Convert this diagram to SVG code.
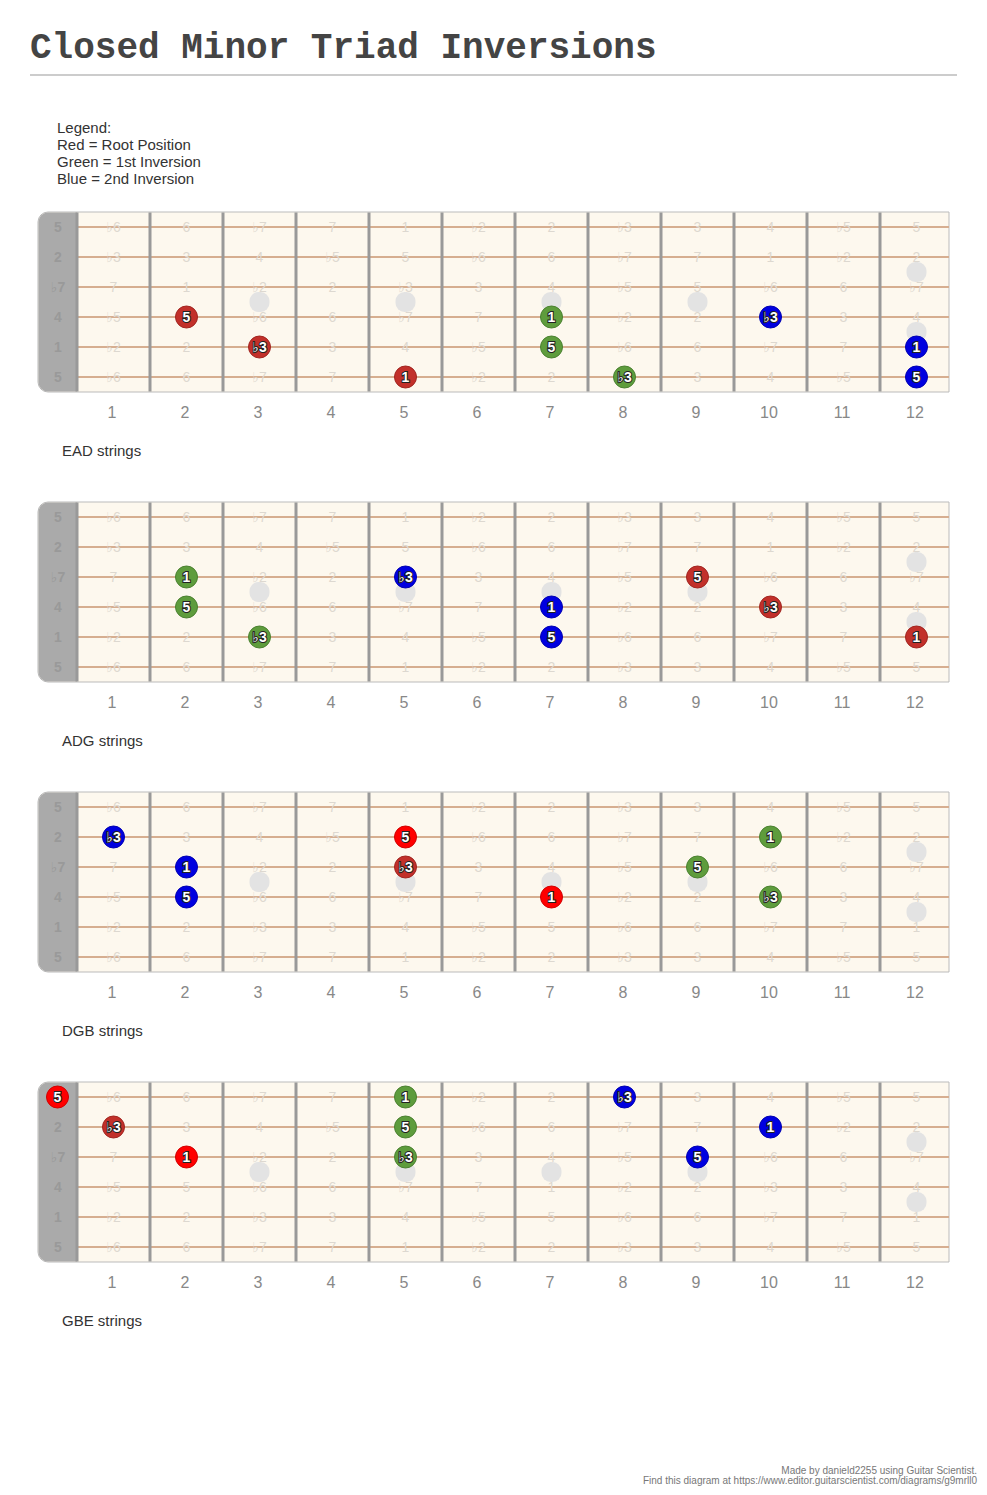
<svg xmlns="http://www.w3.org/2000/svg" xmlns:xlink="http://www.w3.org/1999/xlink" width="987" height="1495" viewBox="0 0 987 1495">
<style>
.title{font-family:"Liberation Mono",monospace;font-weight:bold;font-size:36px;fill:#444}
.legend{font-family:"Liberation Sans",Arial,sans-serif;font-size:15px;fill:#333}
.fretnum{font-family:"Liberation Sans",Arial,sans-serif;font-size:16px;fill:#888;text-anchor:middle}
.bname{font-family:"Liberation Sans",Arial,sans-serif;font-size:15px;fill:#333}
.bg{font-family:"Liberation Sans","DejaVu Sans",sans-serif;font-size:14px;fill:#ddd8d0;text-anchor:middle}
.nutl{font-family:"Liberation Sans","DejaVu Sans",sans-serif;font-size:14px;font-weight:bold;fill:#999;text-anchor:middle}
.str{stroke:#d6ae90;stroke-width:2}
.fret{stroke:#999;stroke-width:3}
.inlay{fill:#e3e3e3}
.n circle{stroke-width:1}
.n text{font-family:"Liberation Sans","DejaVu Sans",sans-serif;font-size:14px;font-weight:bold;fill:#fff;text-anchor:middle;stroke:#222;stroke-width:2;paint-order:stroke}
.red circle{fill:#c2302a;stroke:#a02520}
.bred circle{fill:#ff0000;stroke:#d00000}
.grn circle{fill:#5e9c3c;stroke:#4a8030}
.blu circle{fill:#0000e0;stroke:#0000b0}
.foot{font-family:"Liberation Sans",Arial,sans-serif;font-size:10px;fill:#777;text-anchor:end}
</style>
<defs>
<g id="board">
<path d="M48,0 H949 V180 H48 A10,10 0 0 1 38,170 V10 A10,10 0 0 1 48,0 Z" fill="#fdf8ee" stroke="#bbb" stroke-width="1"/>
<path d="M77,0.5 H48 A9.5,9.5 0 0 0 38.5,10 V170 A9.5,9.5 0 0 0 48,179.5 H77 Z" fill="#aaa"/>
<g>
<line class="str" x1="77" y1="15" x2="949" y2="15"/>
<line class="str" x1="77" y1="45" x2="949" y2="45"/>
<line class="str" x1="77" y1="75" x2="949" y2="75"/>
<line class="str" x1="77" y1="105" x2="949" y2="105"/>
<line class="str" x1="77" y1="135" x2="949" y2="135"/>
<line class="str" x1="77" y1="165" x2="949" y2="165"/>
</g>
<g>
<line class="fret" x1="77" y1="0.5" x2="77" y2="179.5"/>
<line class="fret" x1="150" y1="0.5" x2="150" y2="179.5"/>
<line class="fret" x1="223" y1="0.5" x2="223" y2="179.5"/>
<line class="fret" x1="296" y1="0.5" x2="296" y2="179.5"/>
<line class="fret" x1="369" y1="0.5" x2="369" y2="179.5"/>
<line class="fret" x1="442" y1="0.5" x2="442" y2="179.5"/>
<line class="fret" x1="515" y1="0.5" x2="515" y2="179.5"/>
<line class="fret" x1="588" y1="0.5" x2="588" y2="179.5"/>
<line class="fret" x1="661" y1="0.5" x2="661" y2="179.5"/>
<line class="fret" x1="734" y1="0.5" x2="734" y2="179.5"/>
<line class="fret" x1="807" y1="0.5" x2="807" y2="179.5"/>
<line class="fret" x1="880" y1="0.5" x2="880" y2="179.5"/>
</g>
<g>
<text class="nutl" x="58" y="20">5</text>
<text class="nutl" x="58" y="50">2</text>
<text class="nutl" x="58" y="80">♭7</text>
<text class="nutl" x="58" y="110">4</text>
<text class="nutl" x="58" y="140">1</text>
<text class="nutl" x="58" y="170">5</text>
</g>
<g>
<text class="bg" x="113.5" y="20">♭6</text><text class="bg" x="186.5" y="20">6</text><text class="bg" x="259.5" y="20">♭7</text><text class="bg" x="332.5" y="20">7</text><text class="bg" x="405.5" y="20">1</text><text class="bg" x="478.5" y="20">♭2</text><text class="bg" x="551.5" y="20">2</text><text class="bg" x="624.5" y="20">♭3</text><text class="bg" x="697.5" y="20">3</text><text class="bg" x="770.5" y="20">4</text><text class="bg" x="843.5" y="20">♭5</text><text class="bg" x="916.5" y="20">5</text>
<text class="bg" x="113.5" y="50">♭3</text><text class="bg" x="186.5" y="50">3</text><text class="bg" x="259.5" y="50">4</text><text class="bg" x="332.5" y="50">♭5</text><text class="bg" x="405.5" y="50">5</text><text class="bg" x="478.5" y="50">♭6</text><text class="bg" x="551.5" y="50">6</text><text class="bg" x="624.5" y="50">♭7</text><text class="bg" x="697.5" y="50">7</text><text class="bg" x="770.5" y="50">1</text><text class="bg" x="843.5" y="50">♭2</text><text class="bg" x="916.5" y="50">2</text>
<text class="bg" x="113.5" y="80">7</text><text class="bg" x="186.5" y="80">1</text><text class="bg" x="259.5" y="80">♭2</text><text class="bg" x="332.5" y="80">2</text><text class="bg" x="405.5" y="80">♭3</text><text class="bg" x="478.5" y="80">3</text><text class="bg" x="551.5" y="80">4</text><text class="bg" x="624.5" y="80">♭5</text><text class="bg" x="697.5" y="80">5</text><text class="bg" x="770.5" y="80">♭6</text><text class="bg" x="843.5" y="80">6</text><text class="bg" x="916.5" y="80">♭7</text>
<text class="bg" x="113.5" y="110">♭5</text><text class="bg" x="186.5" y="110">5</text><text class="bg" x="259.5" y="110">♭6</text><text class="bg" x="332.5" y="110">6</text><text class="bg" x="405.5" y="110">♭7</text><text class="bg" x="478.5" y="110">7</text><text class="bg" x="551.5" y="110">1</text><text class="bg" x="624.5" y="110">♭2</text><text class="bg" x="697.5" y="110">2</text><text class="bg" x="770.5" y="110">♭3</text><text class="bg" x="843.5" y="110">3</text><text class="bg" x="916.5" y="110">4</text>
<text class="bg" x="113.5" y="140">♭2</text><text class="bg" x="186.5" y="140">2</text><text class="bg" x="259.5" y="140">♭3</text><text class="bg" x="332.5" y="140">3</text><text class="bg" x="405.5" y="140">4</text><text class="bg" x="478.5" y="140">♭5</text><text class="bg" x="551.5" y="140">5</text><text class="bg" x="624.5" y="140">♭6</text><text class="bg" x="697.5" y="140">6</text><text class="bg" x="770.5" y="140">♭7</text><text class="bg" x="843.5" y="140">7</text><text class="bg" x="916.5" y="140">1</text>
<text class="bg" x="113.5" y="170">♭6</text><text class="bg" x="186.5" y="170">6</text><text class="bg" x="259.5" y="170">♭7</text><text class="bg" x="332.5" y="170">7</text><text class="bg" x="405.5" y="170">1</text><text class="bg" x="478.5" y="170">♭2</text><text class="bg" x="551.5" y="170">2</text><text class="bg" x="624.5" y="170">♭3</text><text class="bg" x="697.5" y="170">3</text><text class="bg" x="770.5" y="170">4</text><text class="bg" x="843.5" y="170">♭5</text><text class="bg" x="916.5" y="170">5</text>
</g>
<g>
<rect class="inlay" x="249.5" y="80" width="20" height="20" rx="9"/>
<rect class="inlay" x="395.5" y="80" width="20" height="20" rx="9"/>
<rect class="inlay" x="541.5" y="80" width="20" height="20" rx="9"/>
<rect class="inlay" x="687.5" y="80" width="20" height="20" rx="9"/>
<rect class="inlay" x="906.5" y="50" width="20" height="20" rx="9"/>
<rect class="inlay" x="906.5" y="110" width="20" height="20" rx="9"/>
</g>
<g class="fretnum">
<text x="112" y="206">1</text><text x="185" y="206">2</text><text x="258" y="206">3</text><text x="331" y="206">4</text><text x="404" y="206">5</text><text x="477" y="206">6</text><text x="550" y="206">7</text><text x="623" y="206">8</text><text x="696" y="206">9</text><text x="769" y="206">10</text><text x="842" y="206">11</text><text x="915" y="206">12</text>
</g>
</g>
</defs>

<g id="header">
<text class="title" x="30" y="58">Closed Minor Triad Inversions</text>
<line x1="30" y1="75" x2="957" y2="75" stroke="#ccc" stroke-width="2"/>
</g>
<g id="legend" class="legend">
<text x="57" y="133">Legend:</text>
<text x="57" y="150">Red = Root Position</text>
<text x="57" y="167">Green = 1st Inversion</text>
<text x="57" y="184">Blue = 2nd Inversion</text>
</g>

<g id="board-ead">
<use xlink:href="#board" href="#board" y="212"/>
<text class="bname" x="62" y="456">EAD strings</text>
<g class="n red"><circle cx="186.5" cy="317" r="11"/><text x="186.5" y="322">5</text></g>
<g class="n red"><circle cx="259.5" cy="347" r="11"/><text x="259.5" y="352">♭3</text></g>
<g class="n red"><circle cx="405.5" cy="377" r="11"/><text x="405.5" y="382">1</text></g>
<g class="n grn"><circle cx="551.5" cy="317" r="11"/><text x="551.5" y="322">1</text></g>
<g class="n grn"><circle cx="551.5" cy="347" r="11"/><text x="551.5" y="352">5</text></g>
<g class="n grn"><circle cx="624.5" cy="377" r="11"/><text x="624.5" y="382">♭3</text></g>
<g class="n blu"><circle cx="770.5" cy="317" r="11"/><text x="770.5" y="322">♭3</text></g>
<g class="n blu"><circle cx="916.5" cy="347" r="11"/><text x="916.5" y="352">1</text></g>
<g class="n blu"><circle cx="916.5" cy="377" r="11"/><text x="916.5" y="382">5</text></g>
</g>

<g id="board-adg">
<use xlink:href="#board" href="#board" y="502"/>
<text class="bname" x="62" y="746">ADG strings</text>
<g class="n grn"><circle cx="186.5" cy="577" r="11"/><text x="186.5" y="582">1</text></g>
<g class="n grn"><circle cx="186.5" cy="607" r="11"/><text x="186.5" y="612">5</text></g>
<g class="n grn"><circle cx="259.5" cy="637" r="11"/><text x="259.5" y="642">♭3</text></g>
<g class="n blu"><circle cx="405.5" cy="577" r="11"/><text x="405.5" y="582">♭3</text></g>
<g class="n blu"><circle cx="551.5" cy="607" r="11"/><text x="551.5" y="612">1</text></g>
<g class="n blu"><circle cx="551.5" cy="637" r="11"/><text x="551.5" y="642">5</text></g>
<g class="n red"><circle cx="697.5" cy="577" r="11"/><text x="697.5" y="582">5</text></g>
<g class="n red"><circle cx="770.5" cy="607" r="11"/><text x="770.5" y="612">♭3</text></g>
<g class="n red"><circle cx="916.5" cy="637" r="11"/><text x="916.5" y="642">1</text></g>
</g>

<g id="board-dgb">
<use xlink:href="#board" href="#board" y="792"/>
<text class="bname" x="62" y="1036">DGB strings</text>
<g class="n blu"><circle cx="113.5" cy="837" r="11"/><text x="113.5" y="842">♭3</text></g>
<g class="n blu"><circle cx="186.5" cy="867" r="11"/><text x="186.5" y="872">1</text></g>
<g class="n blu"><circle cx="186.5" cy="897" r="11"/><text x="186.5" y="902">5</text></g>
<g class="n bred"><circle cx="405.5" cy="837" r="11"/><text x="405.5" y="842">5</text></g>
<g class="n red"><circle cx="405.5" cy="867" r="11"/><text x="405.5" y="872">♭3</text></g>
<g class="n bred"><circle cx="551.5" cy="897" r="11"/><text x="551.5" y="902">1</text></g>
<g class="n grn"><circle cx="697.5" cy="867" r="11"/><text x="697.5" y="872">5</text></g>
<g class="n grn"><circle cx="770.5" cy="837" r="11"/><text x="770.5" y="842">1</text></g>
<g class="n grn"><circle cx="770.5" cy="897" r="11"/><text x="770.5" y="902">♭3</text></g>
</g>

<g id="board-gbe">
<use xlink:href="#board" href="#board" y="1082"/>
<text class="bname" x="62" y="1326">GBE strings</text>
<g class="n bred"><circle cx="57.5" cy="1097" r="11"/><text x="57.5" y="1102">5</text></g>
<g class="n red"><circle cx="113.5" cy="1127" r="11"/><text x="113.5" y="1132">♭3</text></g>
<g class="n bred"><circle cx="186.5" cy="1157" r="11"/><text x="186.5" y="1162">1</text></g>
<g class="n grn"><circle cx="405.5" cy="1097" r="11"/><text x="405.5" y="1102">1</text></g>
<g class="n grn"><circle cx="405.5" cy="1127" r="11"/><text x="405.5" y="1132">5</text></g>
<g class="n grn"><circle cx="405.5" cy="1157" r="11"/><text x="405.5" y="1162">♭3</text></g>
<g class="n blu"><circle cx="624.5" cy="1097" r="11"/><text x="624.5" y="1102">♭3</text></g>
<g class="n blu"><circle cx="697.5" cy="1157" r="11"/><text x="697.5" y="1162">5</text></g>
<g class="n blu"><circle cx="770.5" cy="1127" r="11"/><text x="770.5" y="1132">1</text></g>
</g>

<g id="connectors"></g>

<g id="footer" class="foot">
<text x="977" y="1474">Made by danield2255 using Guitar Scientist.</text>
<text x="977" y="1484">Find this diagram at https://www.editor.guitarscientist.com/diagrams/g9mrll0</text>
</g>
</svg>
